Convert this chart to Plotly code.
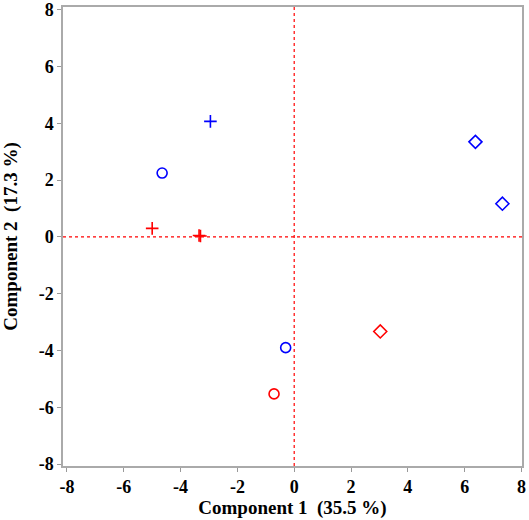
import plotly.graph_objects as go

# PCA scores
blue_plus_x = [-2.95]
blue_plus_y = [4.07]
red_plus_x = [-5.0, -3.35, -3.30]
red_plus_y = [0.30, 0.05, 0.03]
blue_circle_x = [-4.65, -0.30]
blue_circle_y = [2.25, -3.90]
red_circle_x = [-0.71]
red_circle_y = [-5.53]
blue_diamond_x = [6.38, 7.33]
blue_diamond_y = [3.35, 1.17]
red_diamond_x = [3.03]
red_diamond_y = [-3.33]

tick_vals = [-8, -6, -4, -2, 0, 2, 4, 6, 8]
tick_text = ["-8", "-6", "-4", "-2", "0", "2", "4", "6", "8"]

BLUE = "#0000ff"
RED = "#ff0000"
font = "Liberation Serif"

fig = go.Figure()


def add_pts(x, y, symbol, color, size):
    fig.add_trace(go.Scatter(
        x=x, y=y, mode="markers",
        marker=dict(symbol=symbol, size=size, color=color,
                    line=dict(color=color, width=1.6)),
        showlegend=False, hoverinfo="x+y"))


add_pts(blue_plus_x, blue_plus_y, "cross-thin", BLUE, 9)
add_pts(red_plus_x, red_plus_y, "cross-thin", RED, 9)
add_pts(blue_circle_x, blue_circle_y, "circle-open", BLUE, 10)
add_pts(red_circle_x, red_circle_y, "circle-open", RED, 10)
add_pts(blue_diamond_x, blue_diamond_y, "diamond-open", BLUE, 10)
add_pts(red_diamond_x, red_diamond_y, "diamond-open", RED, 10)

# dotted reference lines through the origin
fig.add_shape(type="line", x0=0, x1=0, y0=0, y1=1, xref="x", yref="paper",
              line=dict(color=RED, width=1.2, dash="dot"), layer="below")
fig.add_shape(type="line", x0=0, x1=1, y0=0, y1=0, xref="paper", yref="y",
              line=dict(color=RED, width=1.2, dash="dot"), layer="below")

axis_common = dict(
    tickvals=tick_vals, ticktext=tick_text, ticks="outside", ticklen=4,
    tickcolor="#999999", automargin=False, ticklabeloverflow="allow",
    showgrid=False, zeroline=False, showline=True, mirror=True,
    linecolor="#aaaaaa", linewidth=1.5,
    tickfont=dict(family=font, size=18, color="black", weight="bold"),
)

fig.update_layout(
    width=529, height=520,
    margin=dict(l=63, r=7, t=7, b=54),
    plot_bgcolor="white", paper_bgcolor="white",
    xaxis=dict(range=[-8.14, 8.02],
               title=dict(text="Component 1\u00a0\u00a0(35.5 %)", standoff=4,
                          font=dict(family=font, size=19, color="black", weight="bold")),
               **axis_common),
    yaxis=dict(range=[-8.07, 8.1],
               title=dict(text="Component 2\u00a0\u00a0(17.3 %)", standoff=19,
                          font=dict(family=font, size=19, color="black", weight="bold")),
               **axis_common),
)

# drop the default 8px body margin so the figure fills the window
fig.write_html("out.html", config={"displayModeBar": False},
               post_script="document.body.style.margin = '0';")
